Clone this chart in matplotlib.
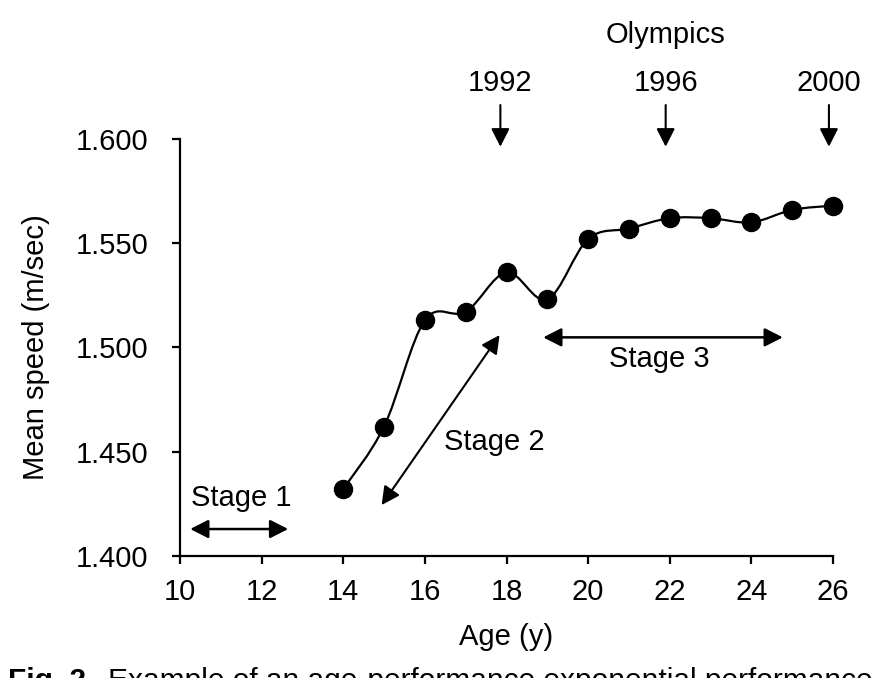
import numpy as np
import matplotlib
matplotlib.use("Agg")
import matplotlib.pyplot as plt
from matplotlib.path import Path
import matplotlib.patches as patches

plt.rcParams['font.family'] = ['Liberation Sans', 'DejaVu Sans']

# data
ages = [14, 15, 16, 17, 18, 19, 20, 21, 22, 23, 24, 25, 26]
speed = [1.432, 1.462, 1.513, 1.517, 1.536, 1.523, 1.552, 1.557, 1.562, 1.562, 1.560, 1.566, 1.568]
olympic_years = ['1992', '1996', '2000']
olympic_ages = [17.85, 21.9, 25.9]
x_ticks = [10, 12, 14, 16, 18, 20, 22, 24, 26]
y_ticks = [1.400, 1.450, 1.500, 1.550, 1.600]

FS = 21

fig = plt.figure(figsize=(8.85, 6.78), dpi=100)
ax = fig.add_axes([180 / 885, 1 - 555.7 / 678, (833 - 180) / 885, (555.7 - 139) / 678])
ax.set_xlim(10, 26)
ax.set_ylim(1.4, 1.6)

# smooth line through the points (excel-like bezier), drawn as a path
P = np.column_stack([ages, speed])
verts = [P[0]]
codes = [Path.MOVETO]
n = len(P)
for i in range(n - 1):
    p0 = P[max(i - 1, 0)]
    p1 = P[i]
    p2 = P[i + 1]
    p3 = P[min(i + 2, n - 1)]
    c1 = p1 + (p2 - p0) / 6.0
    c2 = p2 - (p3 - p1) / 6.0
    verts += [c1, c2, p2]
    codes += [Path.CURVE4] * 3
ax.add_patch(patches.PathPatch(Path(verts, codes), fill=False, lw=1.6, edgecolor='black', clip_on=False))
ax.plot(ages, speed, 'o', color='black', ms=13, clip_on=False, zorder=3)

ax.spines['top'].set_visible(False)
ax.spines['right'].set_visible(False)
ax.spines['left'].set_linewidth(1.6)
ax.spines['bottom'].set_linewidth(1.6)
ax.set_xticks(x_ticks)
ax.set_yticks(y_ticks)
ax.set_yticklabels(['%.3f' % v for v in y_ticks])
ax.tick_params(axis='both', direction='out', length=6, width=1.6, labelsize=FS, colors='black')
ax.tick_params(axis='y', pad=17)
ax.tick_params(axis='x', pad=10)
ax.set_xlabel('Age (y)', fontsize=FS, labelpad=12)
ax.set_ylabel('Mean speed (m/sec)', fontsize=FS, labelpad=18)

# olympics markers
for yr, a in zip(olympic_years, olympic_ages):
    ax.annotate('', xy=(a, 1.5963), xytext=(a, 1.6163), annotation_clip=False,
                arrowprops=dict(arrowstyle='-|>,head_length=0.55,head_width=0.28', mutation_scale=20,
                                color='black', lw=1.5, shrinkA=0, shrinkB=0))
    ax.text(a, 1.6269, yr, ha='center', va='center', fontsize=FS, clip_on=False)
ax.text(olympic_ages[1], 1.6499, 'Olympics', ha='center', va='center', fontsize=FS, clip_on=False)

# stages
two = dict(arrowstyle='<|-|>,head_length=0.55,head_width=0.28', mutation_scale=20,
           color='black', lw=1.8, shrinkA=0, shrinkB=0)
ax.annotate('', xy=(10.25, 1.4128), xytext=(12.65, 1.4128), arrowprops=two)
ax.text(11.5, 1.4277, 'Stage 1', ha='center', va='center', fontsize=FS)
ax.annotate('', xy=(14.94, 1.4243), xytext=(17.83, 1.5059), arrowprops=dict(two, lw=1.5))
ax.text(17.7, 1.4546, 'Stage 2', ha='center', va='center', fontsize=FS)
ax.annotate('', xy=(18.9, 1.5048), xytext=(24.77, 1.5048), arrowprops=two)
ax.text(21.75, 1.4945, 'Stage 3', ha='center', va='center', fontsize=FS)

# caption, cut at the bottom edge like the source
cap_y = 1 - 667 / 678
fig.text(8 / 885, cap_y, 'Fig. 2.', fontsize=21.5, fontweight='bold', va='top', ha='left')
fig.text(108 / 885, cap_y, 'Example of an age-performance exponential performance',
         fontsize=21.5, va='top', ha='left')

fig.savefig('out.png', dpi=100)
